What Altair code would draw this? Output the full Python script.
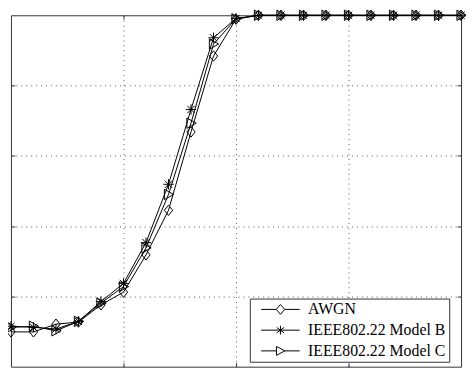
import altair as alt
import pandas as pd

# ---- data ----
snr = list(range(21))
series_names = ["AWGN", "IEEE802.22 Model B", "IEEE802.22 Model C"]
awgn = [0.099, 0.099, 0.121, 0.127, 0.176, 0.212, 0.318, 0.445, 0.668, 0.884, 0.989,
        1.0, 1.0, 1.0, 1.0, 1.0, 1.0, 1.0, 1.0, 1.0, 1.0]
model_b = [0.115, 0.112, 0.107, 0.129, 0.185, 0.237, 0.353, 0.519, 0.732, 0.936, 0.991,
           1.0, 1.0, 1.0, 1.0, 1.0, 1.0, 1.0, 1.0, 1.0, 1.0]
model_c = [0.112, 0.115, 0.102, 0.129, 0.181, 0.228, 0.338, 0.490, 0.693, 0.918, 0.990,
           1.0, 1.0, 1.0, 1.0, 1.0, 1.0, 1.0, 1.0, 1.0, 1.0]
x_grid = [5, 10, 15]
y_grid = [0.2, 0.4, 0.6, 0.8]

rows = []
for name, vals in zip(series_names, [awgn, model_b, model_c]):
    for xv, yv in zip(snr, vals):
        rows.append({"x": xv, "y": yv, "series": name})
df = pd.DataFrame(rows)

W, H = 456, 356

marker_paths = [
    "M0,-1L0.8,0L0,1L-0.8,0Z",
    "M-1,0L1,0M0,-1L0,1M-0.7,-0.7L0.7,0.7M-0.7,0.7L0.7,-0.7",
    "M-0.8,-1L1,0L-0.8,1Z",
]
legend_paths = [
    "M-3.9,0L-0.85,0M0.85,0L3.9,0M0,-1L0.85,0L0,1L-0.85,0Z",
    "M-3.9,0L3.9,0M0,-0.9L0,0.9M-0.75,-0.55L0.75,0.55M-0.75,0.55L0.75,-0.55",
    "M-3.9,0L-0.8,0M0.9,0L3.9,0M-0.8,-0.9L0.9,0L-0.8,0.9Z",
]

xs = alt.Scale(domain=[0, 20], nice=False, zero=False)
ys = alt.Scale(domain=[0, 1], nice=False, zero=False)

grid_kw = dict(gridColor="#555555", gridDash=[1, 4], gridWidth=1, gridOpacity=1)
tick_kw = dict(labels=False, title=None, domain=False, ticks=True, tickSize=4,
               tickColor="#333333", tickWidth=1)

ax_x_a = alt.Axis(orient="top", offset=-H, values=x_grid, grid=True, **grid_kw, **tick_kw)
ax_x_b = alt.Axis(orient="bottom", offset=-H, values=x_grid, grid=False, **tick_kw)
ax_y_a = alt.Axis(orient="right", offset=-W, values=y_grid, grid=True, **grid_kw, **tick_kw)
ax_y_b = alt.Axis(orient="left", offset=-W, values=y_grid, grid=False, **tick_kw)

base = alt.Chart(df)

lines = base.mark_line(color="black", strokeWidth=1).encode(
    x=alt.X("x:Q", scale=xs, axis=ax_x_a),
    y=alt.Y("y:Q", scale=ys, axis=ax_y_a),
    detail="series:N",
)

points = base.mark_point(filled=False, color="black", strokeWidth=1, size=110, opacity=1).encode(
    x=alt.X("x:Q", scale=xs, axis=ax_x_b),
    y=alt.Y("y:Q", scale=ys, axis=ax_y_b),
    shape=alt.Shape("series:N", scale=alt.Scale(domain=series_names, range=marker_paths), legend=None),
)

legend_layer = base.mark_point(filled=False, color="black", strokeWidth=1, opacity=0).encode(
    x=alt.X("x:Q", scale=xs, axis=None),
    y=alt.Y("y:Q", scale=ys, axis=None),
    shape=alt.Shape(
        "series:N",
        scale=alt.Scale(domain=series_names, range=legend_paths),
        legend=alt.Legend(
            title=None,
            orient="none",
            legendX=242,
            legendY=287,
            strokeColor="#333333",
            fillColor="white",
            cornerRadius=0,
            padding=3,
            rowPadding=5,
            labelFont="Liberation Serif",
            labelFontSize=16,
            labelColor="black",
            labelOffset=20,
            symbolOffset=20,
            symbolSize=100,
            symbolStrokeWidth=1,
            symbolStrokeColor="black",
            symbolFillColor="white",
            symbolOpacity=1,
        ),
    ),
)

chart = (
    alt.layer(lines, points, legend_layer)
    .resolve_scale(shape="independent")
    .resolve_axis(x="independent", y="independent")
    .properties(
        width=W,
        height=H,
        padding={"left": 3, "top": 5, "right": 5, "bottom": 2},
        autosize=alt.AutoSizeParams(type="none"),
        background="white",
    )
    .configure_view(stroke="#333333", strokeWidth=1)
)

chart.save("out.html", embed_options={"renderer": "svg", "actions": False})
